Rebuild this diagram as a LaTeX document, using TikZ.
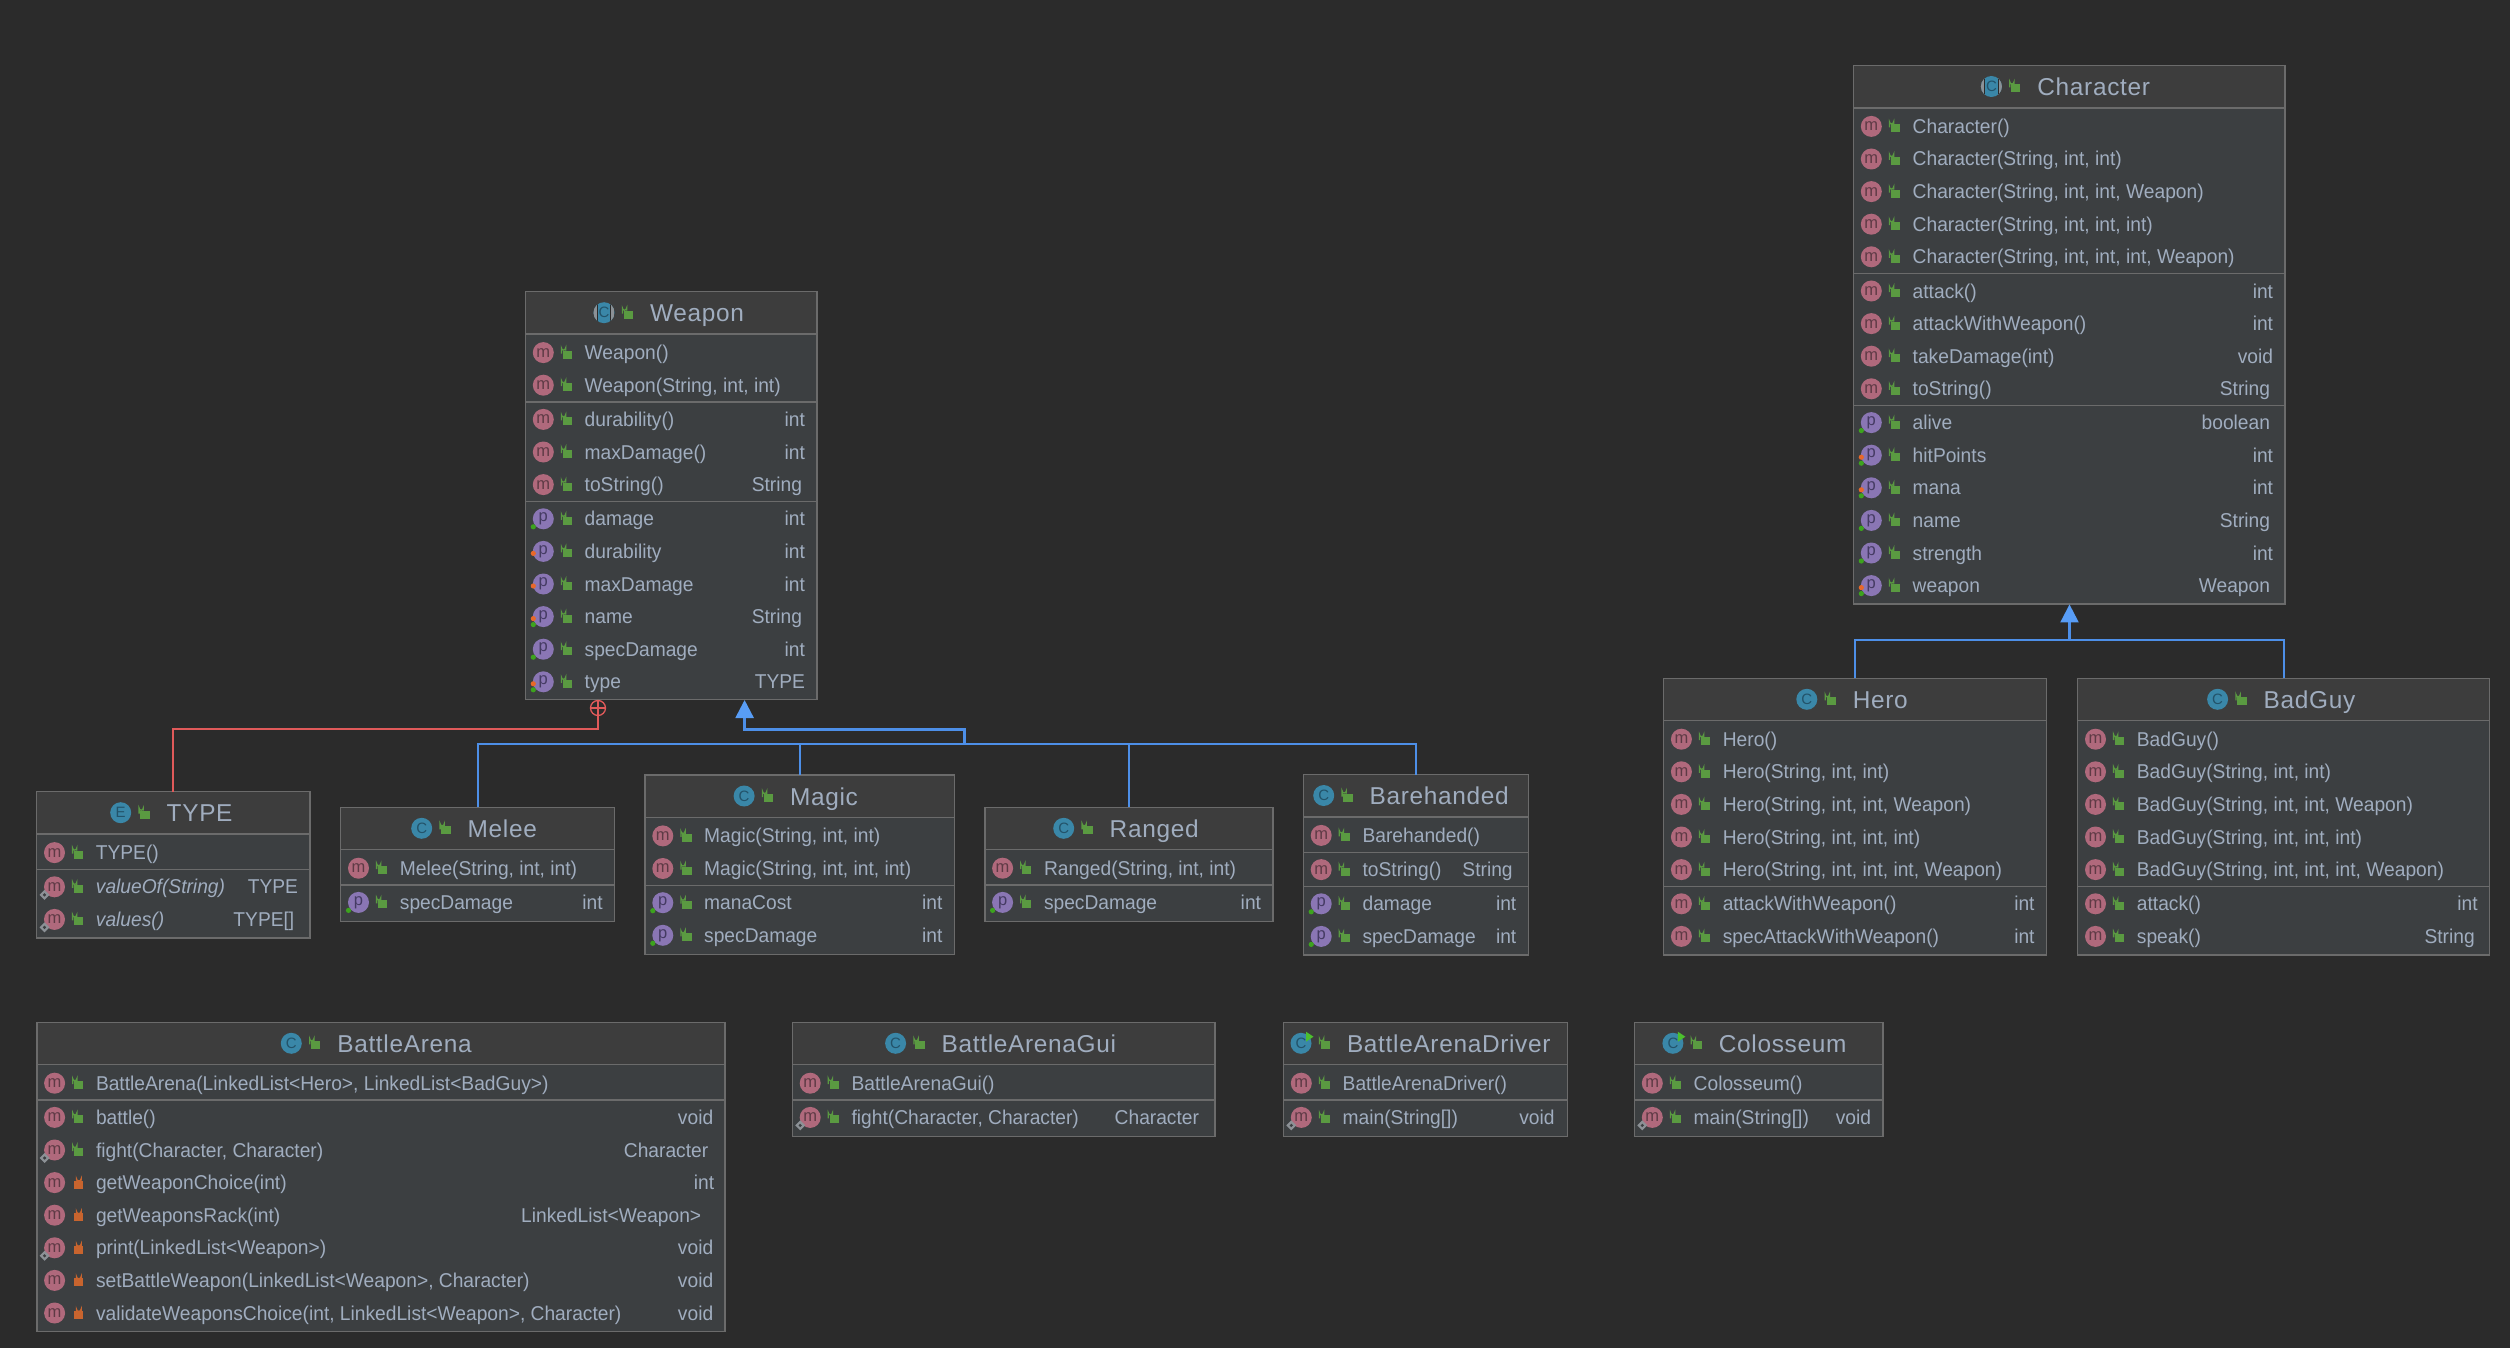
\documentclass[tikz,border=0pt]{standalone}
\usepackage{fontspec}
\setmainfont{Liberation Sans}[FakeStretch=0.96]
\newfontfamily\titlefont{Liberation Sans}[LetterSpace=2.8]
\newfontfamily\iconfont{Liberation Sans}
\usetikzlibrary{arrows.meta,calc}
\definecolor{bg}{HTML}{2B2B2B}
\definecolor{bodyc}{HTML}{3C3F41}
\definecolor{headc}{HTML}{3D3D3D}
\definecolor{edge}{HTML}{6B6B6B}
\definecolor{txt}{HTML}{A0ADBF}
\definecolor{mfill}{HTML}{B0697C}
\definecolor{mink}{HTML}{5E3A45}
\definecolor{pfill}{HTML}{8A76B4}
\definecolor{pink2}{HTML}{453B63}
\definecolor{cfill}{HTML}{3A87A8}
\definecolor{cink}{HTML}{23536A}
\definecolor{absgrey}{HTML}{8C9196}
\definecolor{lockg}{HTML}{5A9A41}
\definecolor{lockr}{HTML}{C8642E}
\definecolor{dotg}{HTML}{3DA31E}
\definecolor{doto}{HTML}{E8682A}
\definecolor{runr}{HTML}{4CBF2E}
\definecolor{inhline}{HTML}{4D8FE8}
\definecolor{inhtip}{HTML}{589DF6}
\definecolor{innerc}{HTML}{E05A5A}
\tikzset{
  classbox/.style={draw=edge,fill=bodyc,line width=1.5pt,rectangle,inner sep=0pt,outer sep=0pt,anchor=north west},
  sepline/.style={draw=edge,line width=1.5pt},
  titletxt/.style={text=txt,inner sep=0pt,outer sep=0pt,anchor=base west,font=\titlefont\fontsize{24.4}{28}\selectfont},
  rowtxt/.style={text=txt,inner sep=0pt,outer sep=0pt,anchor=base west,font=\fontsize{20}{24}\selectfont},
  rowtype/.style={rowtxt,anchor=base east},
  ico/.style={circle,inner sep=0pt,outer sep=0pt,minimum size=21pt,font=\iconfont\fontsize{16.5}{17}\selectfont},
  icom/.style={ico,fill=mfill,text=mink},
  icop/.style={ico,fill=pfill,text=pink2},
  icoc/.style={ico,fill=cfill,text=cink,font=\iconfont\fontsize{15}{15}\selectfont},
  branch/.style={draw=inhline,line width=1.7pt},
  stub/.style={draw=inhline,line width=2.1pt},
  trunk/.style={draw=inhline,line width=2.5pt},
  tipped/.style={-{Triangle[length=18pt,width=18pt,fill=inhtip,color=inhtip]}},
  innerline/.style={draw=innerc,line width=2pt},
}
\newcount\rowno
% lock icons, drawn around the given centre
\newcommand{\lockat}[3]{% colour key, x, y
  \pgfmathsetmacro\lkx{#2}\pgfmathsetmacro\lky{#3}
  \ifx#1g
    \fill[lockg] (\lkx-3.3,\lky-2) rectangle (\lkx+6,\lky+6);
    \draw[lockg,line width=1.3pt] (\lkx-4.6,\lky+1) -- (\lkx-4.6,\lky-4.6) arc[start angle=180,end angle=0,radius=2.1] -- (\lkx-.4,\lky-2);
  \else
    \fill[lockr] (\lkx-3.3,\lky-2) rectangle (\lkx+6,\lky+6);
    \draw[lockr,line width=1.3pt] (\lkx-.9,\lky-2) -- (\lkx-.9,\lky-4) arc[start angle=180,end angle=0,radius=2.4] -- (\lkx+3.9,\lky-2);
  \fi}
\newcommand{\dotat}[3]{\fill[#1] (#2,#3) circle[radius=2.6];}
\newcommand{\diamat}[2]{%
  \pgfmathsetmacro\dmx{#1}\pgfmathsetmacro\dmy{#2}
  \fill[absgrey] (\dmx,\dmy-5) -- (\dmx+5,\dmy) -- (\dmx,\dmy+5) -- (\dmx-5,\dmy) -- cycle;
  \fill[bodyc] (\dmx,\dmy-1.7) -- (\dmx+1.7,\dmy) -- (\dmx,\dmy+1.7) -- (\dmx-1.7,\dmy) -- cycle;}
% \classbox{id}{left}{top}{right}{bottom}{icon x}{letter}{variant}{title}
% variant: n plain, a abstract, r runnable
\newcommand{\classbox}[9]{%
  \node[classbox,minimum width=#4pt-#2pt,minimum height=#5pt-#3pt] (#1) at (#2,#3) {};
  \fill[headc] (#2+.75,#3+.75) rectangle (#4-.75,#3+42);
  \draw[sepline] (#2,#3+42.3) -- (#4,#3+42.3);
  \node[icoc] (#1-icon) at (#6,#3+21) {#7};
  \ifx#8a
    \begin{scope}
      \clip (#6,#3+21) circle[radius=10.5];
      \fill[absgrey] (#6-11,#3+10) rectangle (#6-6.7,#3+32);
      \fill[absgrey] (#6+6.7,#3+10) rectangle (#6+11,#3+32);
      \draw[bg,line width=.8pt] (#6-6.7,#3+10) -- (#6-6.7,#3+32) (#6+6.7,#3+10) -- (#6+6.7,#3+32);
    \end{scope}
  \fi
  \ifx#8r
    \fill[runr] (#6+5,#3+9.4) -- (#6+12.5,#3+14.4) -- (#6+5,#3+19.4) -- cycle;
  \fi
  \lockat{g}{#6+23}{#3+21}
  \node[titletxt] (#1-title) at (#6+46,#3+30) {#9};
  \gdef\curid{#1}\gdef\curleft{#2}\gdef\curright{#4}
  \pgfmathsetmacro\tmpy{#3+43.6}\xdef\cury{\tmpy}
  \global\rowno=0 }
% \compart[gap]: draw a separator at the running y
\newcommand{\compart}[1][1.6]{%
  \pgfmathsetmacro\tmpy{\cury+#1}\xdef\cury{\tmpy}
  \draw[sepline] (\curleft,\cury) -- (\curright,\cury);}
% \rw[right offset]{icon m/p}{badge n,s,g,o,b}{lock g/r}{text}{type}
\newcommand{\rw}[6][12]{%
  \global\advance\rowno by 1
  \pgfmathsetmacro\cy{\cury+17.3}
  \pgfmathsetmacro\ix{\curleft+17.8}
  \pgfmathsetmacro\lx{\curleft+40.5}
  \pgfmathsetmacro\tx{\curleft+59.2}
  \pgfmathsetmacro\rx{\curright-#1}
  \ifx#2m
    \node[icom] (\curid-i\the\rowno) at (\ix,\cy) {m};
  \else
    \node[icop] (\curid-i\the\rowno) at (\ix,\cy) {p};
  \fi
  \ifx#3s \diamat{\ix-10}{\cy+8}\fi
  \ifx#3g \dotat{dotg}{\ix-10}{\cy+8}\fi
  \ifx#3o \dotat{doto}{\ix-10}{\cy+2}\fi
  \ifx#3b \dotat{doto}{\ix-10}{\cy+2}\dotat{dotg}{\ix-10}{\cy+8}\fi
  \lockat{#4}{\lx}{\cy}
  \node[rowtxt] (\curid-t\the\rowno) at (\tx,\cy+7) {#5};
  \if\relax\detokenize{#6}\relax\else
    \node[rowtype] (\curid-r\the\rowno) at (\rx,\cy+7) {#6};
  \fi
  \pgfmathsetmacro\tmpy{\cury+32.6}\xdef\cury{\tmpy}}
\begin{document}
\begin{tikzpicture}[x=1pt,y=-1pt]
\useasboundingbox (0,0) rectangle (2510,1348);
\fill[bg] (0,0) rectangle (2510,1348);

% ---- Character
\classbox{character}{1853.5}{65.5}{2285}{604}{1991.4}{C}{a}{Character}
\rw{m}{n}{g}{Character()}{}
\rw{m}{n}{g}{Character(String, int, int)}{}
\rw{m}{n}{g}{Character(String, int, int, Weapon)}{}
\rw{m}{n}{g}{Character(String, int, int, int)}{}
\rw{m}{n}{g}{Character(String, int, int, int, Weapon)}{}
\compart
\rw{m}{n}{g}{attack()}{int}
\rw{m}{n}{g}{attackWithWeapon()}{int}
\rw{m}{n}{g}{takeDamage(int)}{void}
\rw[15]{m}{n}{g}{toString()}{String}
\compart[1.2]
\rw[15]{p}{g}{g}{alive}{boolean}
\rw{p}{b}{g}{hitPoints}{int}
\rw{p}{b}{g}{mana}{int}
\rw[15]{p}{g}{g}{name}{String}
\rw{p}{g}{g}{strength}{int}
\rw[15]{p}{b}{g}{weapon}{Weapon}

% ---- Weapon
\classbox{weapon}{525.5}{291.7}{817}{699.5}{604}{C}{a}{Weapon}
\rw{m}{n}{g}{Weapon()}{}
\rw{m}{n}{g}{Weapon(String, int, int)}{}
\compart
\rw{m}{n}{g}{durability()}{int}
\rw{m}{n}{g}{maxDamage()}{int}
\rw[15]{m}{n}{g}{toString()}{String}
\compart
\rw{p}{g}{g}{damage}{int}
\rw{p}{o}{g}{durability}{int}
\rw{p}{o}{g}{maxDamage}{int}
\rw[15]{p}{b}{g}{name}{String}
\rw{p}{g}{g}{specDamage}{int}
\rw{p}{b}{g}{type}{TYPE}

% ---- TYPE
\classbox{type}{36.7}{791.7}{310}{938}{120.7}{E}{n}{TYPE}
\rw{m}{n}{g}{TYPE()}{}
\compart
\rw{m}{s}{g}{\textit{valueOf(String)}}{TYPE}
\rw[15.7]{m}{s}{g}{\textit{values()}}{TYPE[]}

% ---- Melee
\classbox{melee}{340.7}{807.3}{614.7}{921.3}{421.7}{C}{n}{Melee}
\rw{m}{n}{g}{Melee(String, int, int)}{}
\compart
\rw{p}{g}{g}{specDamage}{int}

% ---- Magic
\classbox{magic}{645}{775}{954.5}{954.5}{744.1}{C}{n}{Magic}
\rw{m}{n}{g}{Magic(String, int, int)}{}
\rw{m}{n}{g}{Magic(String, int, int, int)}{}
\compart
\rw{p}{g}{g}{manaCost}{int}
\rw{p}{g}{g}{specDamage}{int}

% ---- Ranged
\classbox{ranged}{984.8}{807.3}{1273}{921.3}{1063.7}{C}{n}{Ranged}
\rw{m}{n}{g}{Ranged(String, int, int)}{}
\compart
\rw{p}{g}{g}{specDamage}{int}

% ---- Barehanded
\classbox{barehanded}{1303.4}{774.5}{1528.3}{955}{1323.7}{C}{n}{Barehanded}
\rw{m}{n}{g}{Barehanded()}{}
\compart
\rw[15.7]{m}{n}{g}{toString()}{String}
\compart
\rw{p}{g}{g}{damage}{int}
\rw{p}{g}{g}{specDamage}{int}

% ---- Hero
\classbox{hero}{1663.6}{678.3}{2046.5}{955}{1806.8}{C}{n}{Hero}
\rw{m}{n}{g}{Hero()}{}
\rw{m}{n}{g}{Hero(String, int, int)}{}
\rw{m}{n}{g}{Hero(String, int, int, Weapon)}{}
\rw{m}{n}{g}{Hero(String, int, int, int)}{}
\rw{m}{n}{g}{Hero(String, int, int, int, Weapon)}{}
\compart
\rw{m}{n}{g}{attackWithWeapon()}{int}
\rw{m}{n}{g}{specAttackWithWeapon()}{int}

% ---- BadGuy
\classbox{badguy}{2077.7}{678.3}{2489.7}{955}{2217.6}{C}{n}{BadGuy}
\rw{m}{n}{g}{BadGuy()}{}
\rw{m}{n}{g}{BadGuy(String, int, int)}{}
\rw{m}{n}{g}{BadGuy(String, int, int, Weapon)}{}
\rw{m}{n}{g}{BadGuy(String, int, int, int)}{}
\rw{m}{n}{g}{BadGuy(String, int, int, int, Weapon)}{}
\compart
\rw{m}{n}{g}{attack()}{int}
\rw[15]{m}{n}{g}{speak()}{String}

% ---- BattleArena
\classbox{arena}{36.8}{1022.3}{725.2}{1331.5}{291.3}{C}{n}{BattleArena}
\rw{m}{n}{g}{BattleArena(LinkedList<Hero>, LinkedList<BadGuy>)}{}
\compart
\rw{m}{n}{g}{battle()}{void}
\rw[17]{m}{s}{g}{fight(Character, Character)}{Character}
\rw[11]{m}{n}{r}{getWeaponChoice(int)}{int}
\rw[24]{m}{n}{r}{getWeaponsRack(int)}{LinkedList<Weapon>}
\rw{m}{s}{r}{print(LinkedList<Weapon>)}{void}
\rw{m}{n}{r}{setBattleWeapon(LinkedList<Weapon>, Character)}{void}
\rw{m}{n}{r}{validateWeaponsChoice(int, LinkedList<Weapon>, Character)}{void}

% ---- BattleArenaGui
\classbox{gui}{792.4}{1022.3}{1215}{1136.7}{895.6}{C}{n}{BattleArenaGui}
\rw{m}{n}{g}{BattleArenaGui()}{}
\compart
\rw[16]{m}{s}{g}{fight(Character, Character)}{Character}

% ---- BattleArenaDriver
\classbox{driver}{1283.5}{1022.3}{1567.6}{1136.7}{1301}{C}{r}{BattleArenaDriver}
\rw{m}{n}{g}{BattleArenaDriver()}{}
\compart
\rw[13]{m}{s}{g}{main(String[])}{void}

% ---- Colosseum
\classbox{colosseum}{1634.5}{1022.3}{1883}{1136.7}{1672.9}{C}{r}{Colosseum}
\rw{m}{n}{g}{Colosseum()}{}
\compart
\rw{m}{s}{g}{main(String[])}{void}

% ---- connectors: Weapon subclasses
\coordinate (wjoin) at (964.7,744.3);
\coordinate (wbend) at (964.7,729.3);
\coordinate (wtip) at (744.6,700);
\draw[branch] (melee.north) |- (wjoin);
\draw[branch] (magic.north) |- (wjoin);
\draw[branch] (ranged.north) |- (wjoin);
\draw[branch] (barehanded.north) |- (wjoin);
\draw[trunk,tipped] (wjoin) -- (wbend) -| (wtip);

% ---- connectors: Character subclasses
\coordinate (cjoin) at (2069.5,640.3);
\coordinate (ctip) at (2069.5,604.4);
\draw[branch] (hero.north) |- (cjoin);
\draw[branch] (badguy.north) |- (cjoin);
\draw[stub,tipped] (cjoin) -- (ctip);

% ---- inner class connector
\node[circle,draw=innerc,line width=1.3pt,minimum size=15pt,inner sep=0pt,outer sep=0pt] (plus) at (598,708) {};
\draw[innerc,line width=1.3pt] (plus.west) -- (plus.east) (plus.north) -- (plus.south);
\coordinate (tjog) at (173.3,729.3);
\draw[innerline] (type.north) |- (plus.south |- tjog) -- (plus.south);
\end{tikzpicture}
\end{document}
